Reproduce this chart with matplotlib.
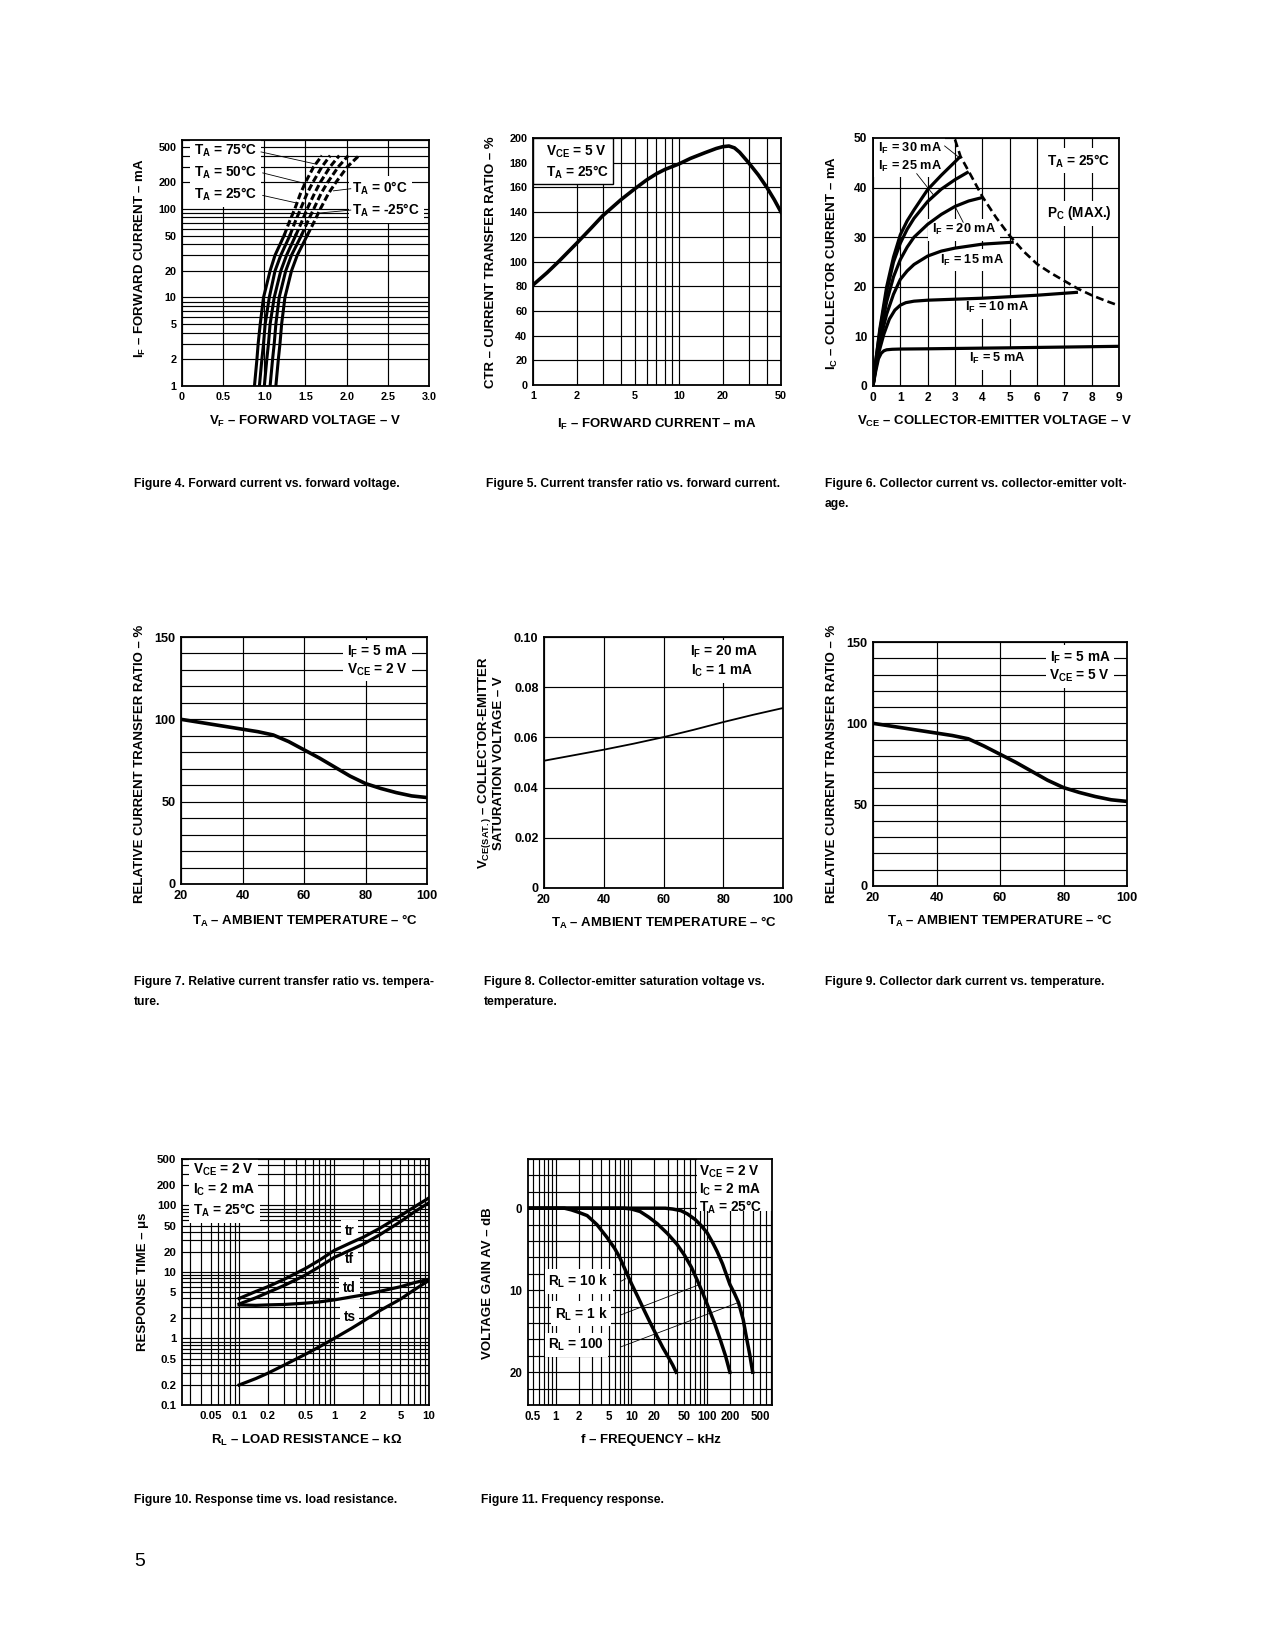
import numpy as np
import matplotlib
matplotlib.use('Agg')
import matplotlib.pyplot as plt
from matplotlib.ticker import LogLocator, NullFormatter, MultipleLocator
from matplotlib.patches import Rectangle

# ---------------- data ----------------
# Fig 4: forward current vs forward voltage
IF4_solid = [1, 2, 3, 5, 10, 20, 30, 50]
IF4_dash = [50, 70, 100, 150, 200, 300, 400]
VF75_s = [0.88, 0.91, 0.925, 0.95, 0.99, 1.07, 1.13, 1.24]
VF75_d = [1.24, 1.30, 1.37, 1.44, 1.50, 1.60, 1.70]
VF50_s = [0.94, 0.97, 0.99, 1.01, 1.06, 1.13, 1.20, 1.31]
VF50_d = [1.31, 1.37, 1.44, 1.52, 1.59, 1.70, 1.80]
VF25_s = [1.00, 1.03, 1.05, 1.07, 1.12, 1.20, 1.27, 1.38]
VF25_d = [1.38, 1.45, 1.52, 1.61, 1.68, 1.80, 1.91]
VF0_s = [1.07, 1.10, 1.12, 1.14, 1.18, 1.26, 1.33, 1.45]
VF0_d = [1.45, 1.52, 1.60, 1.69, 1.77, 1.90, 2.02]
VFm25_s = [1.14, 1.17, 1.19, 1.21, 1.25, 1.33, 1.40, 1.52]
VFm25_d = [1.52, 1.60, 1.68, 1.78, 1.87, 2.01, 2.15]
x4_ticks = [0, 0.5, 1.0, 1.5, 2.0, 2.5, 3.0]
x4_labels = ['0', '0.5', '1.0', '1.5', '2.0', '2.5', '3.0']
y4_ticks = [1, 2, 5, 10, 20, 50, 100, 200, 500]

# Fig 5: CTR vs forward current
IF5 = [1, 1.25, 1.5, 2, 2.5, 3, 4, 5, 6, 7, 8, 10, 12, 15, 18, 20, 22, 24, 26, 30, 35, 40, 45, 50]
CTR5 = [81, 91, 100, 115, 127, 137, 150, 159, 166, 171, 174.5, 179, 183.5, 188, 191.5, 193,
        193.5, 192, 188.5, 180, 170, 160, 150, 140]
x5_ticks = [1, 2, 5, 10, 20, 50]
y5_ticks = [0, 20, 40, 60, 80, 100, 120, 140, 160, 180, 200]

# Fig 6: collector current vs collector-emitter voltage
VCE_5 = [0, 0.1, 0.2, 0.3, 0.4, 0.5, 0.7, 1, 2, 5, 9]
IC_5 = [0, 3.0, 5.5, 6.6, 7.1, 7.3, 7.4, 7.45, 7.5, 7.7, 8.0]
VCE_10 = [0, 0.1, 0.2, 0.4, 0.6, 0.8, 1.0, 1.2, 1.5, 2, 4, 6, 7.5]
IC_10 = [0, 3.5, 6.5, 10.5, 13.5, 15.3, 16.3, 16.8, 17.1, 17.3, 17.7, 18.3, 18.9]
VCE_15 = [0, 0.1, 0.25, 0.5, 0.75, 1, 1.25, 1.5, 2, 2.5, 3, 4, 5.15]
IC_15 = [0, 4, 9, 14.5, 18.5, 21.5, 23.2, 24.5, 26.2, 27.2, 27.8, 28.6, 29.0]
VCE_20 = [0, 0.1, 0.25, 0.5, 0.75, 1, 1.25, 1.5, 2, 2.5, 3, 3.5, 4.0]
IC_20 = [0, 4.5, 10, 17, 22, 25.5, 28.0, 30, 32.6, 34.6, 36.2, 37.3, 38.0]
VCE_25 = [0, 0.1, 0.25, 0.5, 0.75, 1, 1.25, 1.5, 2, 2.5, 3, 3.5]
IC_25 = [0, 5, 11, 19, 25, 28.8, 31.6, 33.8, 37.2, 39.7, 41.6, 43.2]
VCE_30 = [0, 0.1, 0.25, 0.5, 0.75, 1, 1.25, 1.5, 2, 2.5, 3, 3.2]
IC_30 = [0, 5, 11.5, 20, 26, 30.5, 33.3, 35.5, 39.6, 42.5, 45.2, 46.3]
VCE_PC = [3.0, 3.2, 3.5, 4.0, 4.5, 5.0, 5.5, 6.0, 6.5, 7.0, 7.5, 8.0, 8.5, 9.0]
IC_PC = [49.7, 46.3, 43.3, 38.2, 34.0, 30.3, 27.2, 24.6, 22.8, 21.2, 19.6, 18.3, 17.2, 16.2]

# Fig 7 / Fig 9: relative CTR vs temperature
TA7 = [20, 25, 30, 35, 40, 45, 50, 55, 60, 65, 70, 75, 80, 85, 90, 95, 100]
RCTR7 = [100, 98.5, 97, 95.5, 94, 92.5, 90.5, 86.5, 81.5, 76.5, 71, 65.5, 61, 58, 55.5, 53.5, 52.5]
TA9 = [20, 25, 30, 35, 40, 45, 50, 55, 60, 65, 70, 75, 80, 85, 90, 95, 100]
RCTR9 = [100, 98.5, 97, 95.5, 94, 92.5, 90.5, 86, 81, 76, 70.5, 65, 60.5, 57.5, 55, 53, 52]
t_ticks = [20, 40, 60, 80, 100]
r_ticks = [0, 50, 100, 150]

# Fig 8: VCE(sat) vs temperature
TA8 = [20, 30, 40, 50, 60, 70, 80, 90, 100]
VSAT8 = [0.0507, 0.0529, 0.0551, 0.0575, 0.0601, 0.0630, 0.0661, 0.0690, 0.0717]
y8_ticks = [0, 0.02, 0.04, 0.06, 0.08, 0.10]
y8_labels = ['0', '0.02', '0.04', '0.06', '0.08', '0.10']

# Fig 10: response time vs load resistance
RL10 = [0.1, 0.15, 0.2, 0.3, 0.5, 0.7, 1, 1.5, 2, 3, 5, 7, 10]
t_r = [4.0, 5.1, 6.0, 7.8, 11.3, 15, 21, 27.5, 33, 45, 70, 95, 130]
t_f = [3.3, 4.1, 4.9, 6.3, 9.0, 12, 16.5, 21.5, 26, 36, 57, 80, 110]
t_d = [3.2, 3.15, 3.2, 3.25, 3.4, 3.55, 3.8, 4.2, 4.5, 5.1, 6.0, 6.9, 7.8]
t_s = [0.2, 0.25, 0.3, 0.4, 0.58, 0.75, 1.0, 1.4, 1.8, 2.6, 3.9, 5.4, 7.5]
x10_ticks = [0.05, 0.1, 0.2, 0.5, 1, 2, 5, 10]
x10_labels = ['0.05', '0.1', '0.2', '0.5', '1', '2', '5', '10']
y10_ticks = [0.1, 0.2, 0.5, 1, 2, 5, 10, 20, 50, 100, 200, 500]
y10_labels = ['0.1', '0.2', '0.5', '1', '2', '5', '10', '20', '50', '100', '200', '500']

# Fig 11: frequency response
f_10k = [0.43, 1.0, 1.3, 1.6, 2, 2.6, 3.5, 4.7, 6, 7, 8, 10, 12, 15, 18, 22, 26, 30, 35, 39]
g_10k = [0, 0, 0, 0.2, 0.5, 0.9, 2.0, 3.5, 4.9, 6.0, 7.2, 9.2, 10.7, 12.6, 14.1, 15.7, 17.0,
         18.0, 19.1, 20]
f_1k = [0.43, 8, 10, 13, 17, 22, 30, 40, 50, 62, 75, 88, 100, 125, 150, 175, 200]
g_1k = [0, 0, 0.1, 0.4, 1.1, 1.9, 3.1, 4.4, 5.7, 7.2, 8.9, 10.4, 11.7, 14.0, 16.1, 18.0, 20]
f_100 = [0.43, 28, 35, 45, 55, 70, 83, 100, 120, 136, 160, 200, 230, 260, 300, 330, 365, 400]
g_100 = [0, 0, 0.1, 0.3, 0.7, 1.4, 2.1, 3.0, 4.3, 5.3, 6.8, 9.3, 10.4, 11.5, 13.6, 15.7, 17.8, 20]
x11_ticks = [0.5, 1, 2, 5, 10, 20, 50, 100, 200, 500]
x11_labels = ['0.5', '1', '2', '5', '10', '20', '50', '100', '200', '500']
y11_ticks = [0, 10, 20]

captions = [
    'Figure 4. Forward current vs. forward voltage.',
    'Figure 5. Current transfer ratio vs. forward current.',
    'Figure 6. Collector current vs. collector-emitter volt-\nage.',
    'Figure 7. Relative current transfer ratio vs. tempera-\nture.',
    'Figure 8. Collector-emitter saturation voltage vs.\ntemperature.',
    'Figure 9. Collector dark current vs. temperature.',
    'Figure 10. Response time vs. load resistance.',
    'Figure 11. Frequency response.',
]

# ---------------- style ----------------
plt.rcParams['font.family'] = ['Liberation Sans', 'DejaVu Sans']
plt.rcParams['font.weight'] = 'bold'
plt.rcParams['axes.labelweight'] = 'bold'
plt.rcParams['font.size'] = 8
plt.rcParams['mathtext.fontset'] = 'custom'
plt.rcParams['mathtext.rm'] = 'Liberation Sans:bold'
plt.rcParams['mathtext.it'] = 'Liberation Sans:bold'
plt.rcParams['mathtext.bf'] = 'Liberation Sans:bold'
plt.rcParams['mathtext.default'] = 'rm'

W, H = 1275, 1650
fig = plt.figure(figsize=(W / 100, H / 100), dpi=100)
fig.patch.set_facecolor('white')

GRID_LW = 0.85
LBL = 9.5
TXT = 9.8
WBOX = dict(boxstyle='square,pad=0.28', fc='white', ec='none')


def P(x, y):
    return (x / W, 1 - y / H)


def make_ax(l, t, r, b, tsize=8):
    ax = fig.add_axes([l / W, 1 - b / H, (r - l) / W, (b - t) / H])
    for s in ax.spines.values():
        s.set_linewidth(1.3)
        s.set_color('black')
        s.set_zorder(6)
    ax.tick_params(which='both', length=0, pad=4, labelsize=tsize, colors='black')
    ax.set_axisbelow(True)
    return ax


def grid(ax, which='both'):
    ax.grid(True, which=which, color='black', lw=GRID_LW)


def labels(ax, xl, xpos, yl, ypos):
    ax.set_xlabel(xl, fontsize=LBL, va='center', ha='center')
    ax.xaxis.set_label_coords(*P(*xpos), transform=fig.transFigure)
    ax.set_ylabel(yl, fontsize=LBL, va='center', ha='center')
    ax.yaxis.set_label_coords(*P(*ypos), transform=fig.transFigure)


def logminor(axis):
    axis.set_minor_locator(LogLocator(base=10, subs=np.arange(1, 10), numticks=100))
    axis.set_minor_formatter(NullFormatter())


def note(ax, x, y, s, size=TXT, ha='left', box=True, z=2.5):
    ax.text(x, y, s, fontsize=size, va='center', ha=ha, zorder=z,
            bbox=WBOX if box else None)


def leader(ax, pts):
    for (x0, y0), (x1, y1) in pts:
        ax.plot([x0, x1], [y0, y1], color='black', lw=0.6, zorder=4)


# ---------------- Figure 4 ----------------
ax = make_ax(182, 140, 429, 386, 7.8)
ax.set_yscale('log')
ax.set_xlim(0, 3.0)
ax.set_ylim(1, 600)
ax.set_xticks(x4_ticks, x4_labels)
ax.set_yticks(y4_ticks, [str(v) for v in y4_ticks])
logminor(ax.yaxis)
grid(ax)
dash = (0, (2.2, 1.0))
for vs, vd in [(VF75_s, VF75_d), (VF50_s, VF50_d), (VF25_s, VF25_d),
               (VF0_s, VF0_d), (VFm25_s, VFm25_d)]:
    ax.plot(vs, IF4_solid, color='black', lw=2.2, zorder=3)
    ax.plot(vd, IF4_dash, color='black', lw=2.2, ls=dash, zorder=3)
note(ax, 0.14, 455, 'T$_A$ = 75°C')
note(ax, 0.14, 258, 'T$_A$ = 50°C')
note(ax, 0.14, 146, 'T$_A$ = 25°C')
note(ax, 2.07, 169, 'T$_A$ = 0°C')
note(ax, 2.07, 97, 'T$_A$ = -25°C')
leader(ax, [((0.96, 440), (1.63, 320)), ((0.98, 255), (1.49, 194)),
            ((0.98, 142), (1.385, 117)), ((2.05, 169), (1.84, 160)),
            ((2.05, 97), (1.68, 90))])
labels(ax, 'V$_F$ – FORWARD VOLTAGE – V', (305, 421), 'I$_F$ – FORWARD CURRENT – mA', (140, 258))

# ---------------- Figure 5 ----------------
ax = make_ax(533, 138, 781, 385, 7.8)
ax.set_xscale('log')
ax.set_xlim(1, 50)
ax.set_ylim(0, 200)
ax.set_xticks(x5_ticks, [str(v) for v in x5_ticks])
logminor(ax.xaxis)
ax.set_yticks(y5_ticks, [str(v) for v in y5_ticks])
grid(ax)
ax.plot(IF5, CTR5, color='black', lw=2.6, zorder=3)
ax.add_patch(Rectangle((1, 163), 2.55, 37, fc='white', ec='black', lw=1.0, zorder=4))
note(ax, 1.23, 188.5, 'V$_{CE}$ = 5 V', box=False, z=5)
note(ax, 1.23, 172.5, 'T$_A$ = 25°C', box=False, z=5)
labels(ax, 'I$_F$ – FORWARD CURRENT – mA', (657, 424), 'CTR – CURRENT TRANSFER RATIO – %', (491, 262))

# ---------------- Figure 6 ----------------
ax = make_ax(873, 138, 1119, 386, 8.6)
ax.set_xlim(0, 9)
ax.set_ylim(0, 50)
ax.xaxis.set_major_locator(MultipleLocator(1))
ax.yaxis.set_major_locator(MultipleLocator(10))
grid(ax, 'major')
for v, i in [(VCE_5, IC_5), (VCE_10, IC_10), (VCE_15, IC_15), (VCE_20, IC_20),
             (VCE_25, IC_25), (VCE_30, IC_30)]:
    ax.plot(v, i, color='black', lw=2.3, zorder=3, solid_capstyle='butt')
ax.plot(VCE_PC, IC_PC, color='black', lw=1.9, ls=(0, (3.0, 1.6)), zorder=3)
note(ax, 0.17, 47.8, 'I$_F$ = 30 mA', size=9.2)
note(ax, 0.17, 44.3, 'I$_F$ = 25 mA', size=9.2)
note(ax, 2.16, 31.5, 'I$_F$ = 20 mA', size=9.2)
note(ax, 2.46, 25.4, 'I$_F$ = 15 mA', size=9.2)
note(ax, 3.37, 15.8, 'I$_F$ = 10 mA', size=9.2)
note(ax, 3.5, 5.5, 'I$_F$ = 5 mA', size=9.2)
note(ax, 6.36, 45.4, 'T$_A$ = 25°C')
note(ax, 6.36, 34.8, 'P$_C$ (MAX.)')
leader(ax, [((2.62, 48.4), (3.17, 46.0)), ((1.6, 42.8), (2.2, 38.6)),
            ((3.02, 36.0), (3.3, 33.0))])
labels(ax, 'V$_{CE}$ – COLLECTOR-EMITTER VOLTAGE – V', (995, 421), 'I$_C$ – COLLECTOR CURRENT – mA', (832, 263))

# ---------------- Figure 7 ----------------
ax = make_ax(181, 637, 427, 884, 9.2)
ax.set_xlim(20, 100)
ax.set_ylim(0, 150)
ax.set_xticks(t_ticks, [str(v) for v in t_ticks])
ax.set_yticks(r_ticks, [str(v) for v in r_ticks])
ax.yaxis.set_minor_locator(MultipleLocator(10))
grid(ax)
ax.plot(TA7, RCTR7, color='black', lw=2.6, zorder=3)
note(ax, 93.8, 141, 'I$_F$ = 5 mA', ha='right')
note(ax, 93.8, 130.3, 'V$_{CE}$ = 2 V', ha='right')
labels(ax, 'T$_A$ – AMBIENT TEMPERATURE – °C', (305, 921), 'RELATIVE CURRENT TRANSFER RATIO – %', (140, 764))

# ---------------- Figure 8 ----------------
ax = make_ax(544, 637, 783, 888, 9.0)
ax.set_xlim(20, 100)
ax.set_ylim(0, 0.10)
ax.set_xticks(t_ticks, [str(v) for v in t_ticks])
ax.set_yticks(y8_ticks, y8_labels)
grid(ax, 'major')
ax.plot(TA8, VSAT8, color='black', lw=1.3, zorder=3)
note(ax, 80.2, 0.0941, 'I$_F$ = 20 mA', ha='center')
note(ax, 79.6, 0.0864, 'I$_C$ = 1 mA', ha='center')
ax.set_xlabel('T$_A$ – AMBIENT TEMPERATURE – °C', fontsize=LBL, va='center', ha='center')
ax.xaxis.set_label_coords(*P(664, 923), transform=fig.transFigure)
ax.set_ylabel('V$_{CE(SAT.)}$ – COLLECTOR-EMITTER\nSATURATION VOLTAGE – V', fontsize=LBL,
              va='center', ha='center', linespacing=1.0)
ax.yaxis.set_label_coords(*P(491, 763), transform=fig.transFigure)

# ---------------- Figure 9 ----------------
ax = make_ax(873, 642, 1127, 886, 9.2)
ax.set_xlim(20, 100)
ax.set_ylim(0, 150)
ax.set_xticks(t_ticks, [str(v) for v in t_ticks])
ax.set_yticks(r_ticks, [str(v) for v in r_ticks])
ax.yaxis.set_minor_locator(MultipleLocator(10))
grid(ax)
ax.plot(TA9, RCTR9, color='black', lw=2.6, zorder=3)
note(ax, 94.7, 140.5, 'I$_F$ = 5 mA', ha='right')
note(ax, 94.7, 129.4, 'V$_{CE}$ = 5 V', ha='right')
labels(ax, 'T$_A$ – AMBIENT TEMPERATURE – °C', (1000, 921), 'RELATIVE CURRENT TRANSFER RATIO – %', (832, 764))

# ---------------- Figure 10 ----------------
ax = make_ax(182, 1159, 429, 1405, 8.2)
ax.set_xscale('log')
ax.set_yscale('log')
ax.set_xlim(0.025, 10)
ax.set_ylim(0.1, 500)
ax.set_xticks(x10_ticks, x10_labels)
ax.set_yticks(y10_ticks, y10_labels)
logminor(ax.xaxis)
logminor(ax.yaxis)
grid(ax)
for series in (t_r, t_f, t_d, t_s):
    ax.plot(RL10, series, color='black', lw=2.3, zorder=3)
note(ax, 0.0326, 340, 'V$_{CE}$ = 2 V')
note(ax, 0.0326, 170, 'I$_C$ = 2 mA')
note(ax, 0.0326, 85, 'T$_A$ = 25°C')
for s, yv in [('tr', 41), ('tf', 15.9), ('td', 5.8), ('ts', 2.1)]:
    note(ax, 1.45, yv, s, ha='center')
labels(ax, 'R$_L$ – LOAD RESISTANCE – kΩ', (307, 1440), 'RESPONSE TIME – μs', (143, 1282))

# ---------------- Figure 11 ----------------
ax = make_ax(528, 1159, 772, 1405, 8.3)
ax.set_xscale('log')
ax.set_xlim(0.43, 720)
ax.set_ylim(24, -6)
ax.set_xticks(x11_ticks, x11_labels)
logminor(ax.xaxis)
ax.set_yticks(y11_ticks, [str(v) for v in y11_ticks])
ax.yaxis.set_minor_locator(MultipleLocator(2))
grid(ax)
for f, g in [(f_10k, g_10k), (f_1k, g_1k), (f_100, g_100)]:
    ax.plot(f, g, color='black', lw=2.5, zorder=3)
note(ax, 0.80, 8.9, 'R$_L$ = 10 k')
note(ax, 0.97, 12.9, 'R$_L$ = 1 k')
note(ax, 0.80, 16.7, 'R$_L$ = 100')
leader(ax, [((7.3, 8.9), (8.4, 8.6)), ((7.3, 13.0), (75, 9.4)),
            ((7.3, 16.9), (259, 11.5))])
ax.add_patch(Rectangle((74, -6), 720 - 74, 6.4, fc='white', ec='none', zorder=4))
note(ax, 78, -4.5, 'V$_{CE}$ = 2 V', box=False, z=5)
note(ax, 78, -2.3, 'I$_C$ = 2 mA', box=False, z=5)
note(ax, 78, -0.1, 'T$_A$ = 25°C', box=False, z=5)
labels(ax, 'f – FREQUENCY – kHz', (651, 1440), 'VOLTAGE GAIN AV – dB', (488, 1283))

# ---------------- captions ----------------
cap_pos = [(134, 478), (486, 478), (825, 478), (134, 976), (484, 976), (825, 976),
           (134, 1494), (481, 1494)]
for (cx, cy), c in zip(cap_pos, captions):
    fig.text(*P(cx, cy), c, family='Liberation Sans', fontsize=8.7, fontweight='bold',
             va='top', ha='left', linespacing=1.9)
fig.text(*P(134, 1553), '5', family='Liberation Sans', fontsize=14, fontweight='normal',
         va='top', ha='left')

fig.savefig('out.png', dpi=100, facecolor='white')
